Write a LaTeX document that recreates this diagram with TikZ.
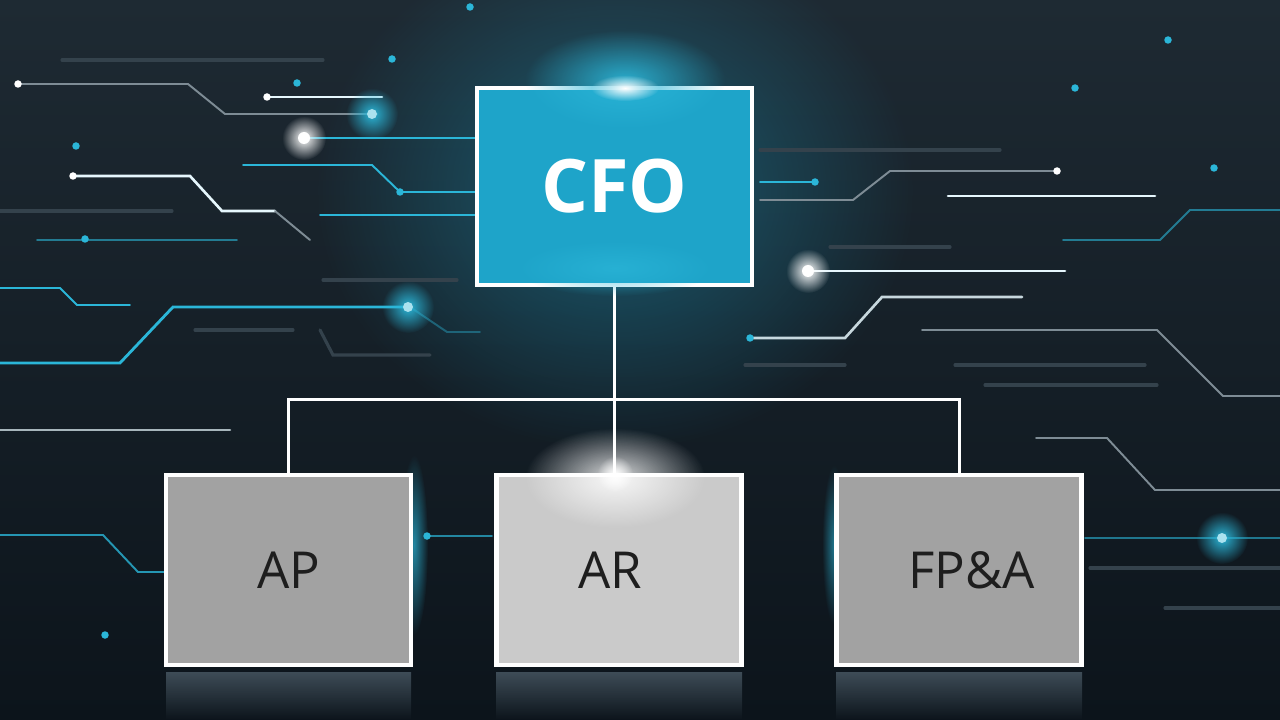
\documentclass[tikz,border=0pt]{standalone}
\usepackage{fontspec}
\setsansfont{Open Sans}
\usetikzlibrary{fadings}

\definecolor{bgtop}{HTML}{1E2A33}
\definecolor{bgbot}{HTML}{0C141B}
\definecolor{cfoblue}{HTML}{1EA4C9}
\definecolor{trcyan}{HTML}{2BB6D8}
\definecolor{trgray}{HTML}{7E8C95}
\definecolor{trfaint}{HTML}{34424C}
\definecolor{boxgray}{HTML}{A2A2A2}
\definecolor{boxlight}{HTML}{CACACA}
\definecolor{txtdark}{HTML}{1E1E1E}
\definecolor{mirror}{HTML}{4A5A66}

\tikzfading[name=glowfade, inner color=transparent!0, outer color=transparent!100]

\begin{document}
\begin{tikzpicture}[x=0.2mm, y=-0.2mm,
                    glow/.style={fill=#1, path fading=glowfade},
                    tw/.style={draw=white!90!cyan, line width=1.5pt, line cap=round},
                    tg/.style={draw=trgray, line width=1.1pt, line cap=round},
                    tc/.style={draw=trcyan, line width=1.1pt, line cap=round},
                    tf/.style={draw=trfaint, line width=1.8pt, line cap=round},
                    tdot/.style={fill=#1, circle, inner sep=0pt, minimum size=1.5mm},
                    box/.style={draw=white, line width=2.5pt, fill=boxgray,
                    minimum width=49mm, minimum height=38mm,
                    text=txtdark, font=\sffamily\fontsize{29}{34}\selectfont},
                    cfobox/.style={box, fill=cfoblue,
                    minimum width=55mm, minimum height=39.4mm,
                    text=white, font=\sffamily\bfseries\fontsize{42}{50}\selectfont},
                    link/.style={draw=white, line width=1.7pt}]
    \useasboundingbox (0,0) rectangle (1280,720);
    \shade[top color=bgtop, bottom color=bgbot] (0,0) rectangle (1280,720);
    \fill[glow=cfoblue, opacity=.45] (615,190) ellipse (300 and 260);
    \fill[glow=trcyan, opacity=.7] (414,545) ellipse (14 and 90);
    \fill[glow=trcyan, opacity=.6] (834,545) ellipse (12 and 80);

    % faint traces
    \draw[tf] (62,60) -- (323,60);
    \draw[tf] (0,211) -- (172,211);
    \draw[tf] (323,280) -- (457,280);
    \draw[tf] (195,330) -- (293,330);
    \draw[tf] (320,330) -- (333,355) -- (430,355);
    \draw[tf] (760,150) -- (1000,150);
    \draw[tf] (830,247) -- (950,247);
    \draw[tf] (745,365) -- (845,365);
    \draw[tf] (955,365) -- (1145,365);
    \draw[tf] (985,385) -- (1157,385);
    \draw[tf] (1090,568) -- (1280,568);
    \draw[tf] (1165,608) -- (1280,608);

    % gray and white traces
    \draw[tg] (18,84) -- (188,84) -- (225,114) -- (377,114);
    \draw[tg] (760,200) -- (853,200) -- (890,171) -- (1057,171);
    \draw[tg] (922,330) -- (1157,330) -- (1223,396) -- (1280,396);
    \draw[tg] (1036,438) -- (1107,438) -- (1155,490) -- (1280,490);
    \draw[tw, opacity=.7] (0,430) -- (230,430);
    \draw[tw, opacity=.85] (750,338) -- (845,338) -- (882,297) -- (1022,297);
    \draw[tw] (267,97) -- (382,97);
    \draw[tw] (73,176) -- (190,176) -- (222,211) -- (275,211);
    \draw[tg] (275,211) -- (310,240);
    \draw[tw] (948,196) -- (1155,196);
    \draw[tw] (808,271) -- (1065,271);

    % cyan traces
    \draw[tc] (304,138) -- (477,138);
    \draw[tc] (243,165) -- (372,165) -- (400,192) -- (477,192);
    \draw[tc, opacity=.6] (37,240) -- (237,240);
    \draw[tc] (320,215) -- (477,215);
    \draw[tc] (0,288) -- (60,288) -- (77,305) -- (130,305);
    \draw[tc, line width=1.6pt] (0,363) -- (120,363) -- (173,307) -- (410,307);
    \draw[tc, opacity=.4] (410,307) -- (447,332) -- (480,332);
    \draw[tc] (760,182) -- (815,182);
    \draw[tc, opacity=.6] (1063,240) -- (1160,240) -- (1190,210) -- (1280,210);
    \draw[tc, opacity=.8] (0,535) -- (103,535) -- (138,572) -- (165,572);
    \draw[tc, opacity=.7] (427,536) -- (492,536);
    \draw[tc, opacity=.6] (1085,538) -- (1280,538);

    % dots
    \foreach \p in {(18,84),(73,176),(1057,171),(267,97)}
        \node[tdot=white] at \p {};
    \foreach \p in {(76,146),(297,83),(392,59),(85,239),(400,192),(750,338),
                    (815,182),(1214,168),(1075,88),(1168,40),(470,7),(105,635),(427,536)}
        \node[tdot=trcyan] at \p {};
    \foreach \p in {(304,138),(808,271)}{
        \fill[glow=white] \p circle (22);
        \node[tdot=white, minimum size=2.4mm] at \p {};
    }
    \foreach \p in {(372,114),(408,307),(1222,538)}{
        \fill[glow=trcyan] \p circle (26);
        \node[tdot=white!60!trcyan, minimum size=2mm] at \p {};
    }

    % reflections
    \foreach \x/\w in {166/245,496/246,836/246}
        \shade[top color=mirror, bottom color=bgbot, opacity=.8]
            (\x,672) rectangle ++(\w,48);

    % chart
    \node[cfobox] (cfo) at (614.5,186.5) {CFO};
    \node[box] (ap) at (288.5,570) {AP};
    \node[box, fill=boxlight] (ar) at (619,570) {\hspace*{-10pt}AR};
    \node[box] (fpa) at (959,570) {FP\&A\hspace*{-14pt}};
    \path (cfo.south) ++(0,112) coordinate (bus);
    \draw[link] (cfo.south) -- (bus);
    \draw[link] (ap.north) |- (bus) -| (fpa.north);
    \draw[link] (bus) -- (bus |- ar.north);

    % highlights
    \fill[glow=trcyan, opacity=.7] (615,268) ellipse (100 and 28);
    \fill[glow=trcyan, opacity=.9] (625,80) ellipse (100 and 50);
    \fill[glow=white] (625,88) ellipse (34 and 13);
    \fill[glow=white, opacity=.85] (615,478) ellipse (90 and 50);
    \fill[glow=white] (615,474) circle (18);
\end{tikzpicture}
\end{document}
